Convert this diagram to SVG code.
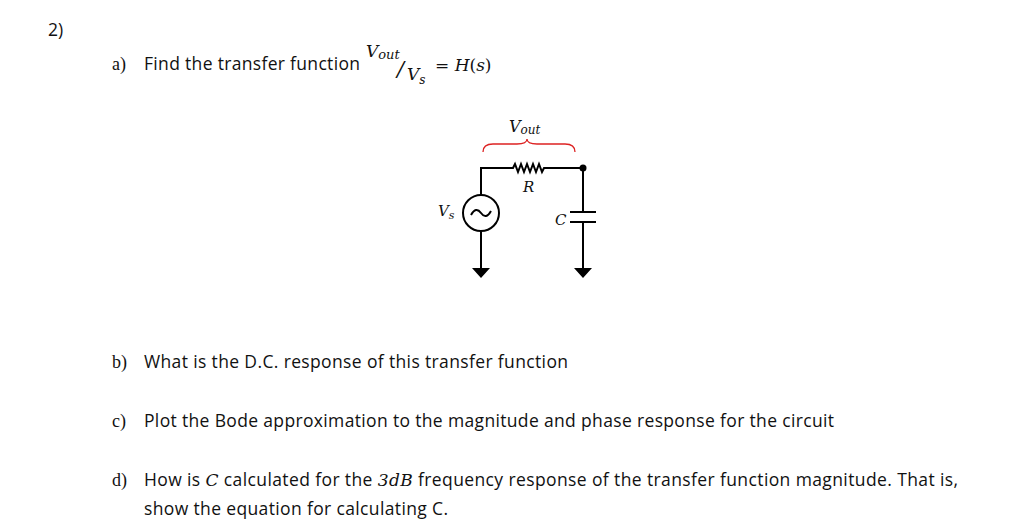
<svg xmlns="http://www.w3.org/2000/svg" width="1024" height="520" viewBox="0 0 1024 520">
<style>
.t{font-family:"Open Sans","Noto Sans",sans-serif;font-size:17.5px;fill:#111}
.s{font-family:"Liberation Serif",serif;font-size:18px;fill:#111}
.m{font-family:"DejaVu Serif","Liberation Serif",serif;font-style:italic;fill:#111}
.w{stroke:#000;stroke-width:2;fill:none}
</style>
<rect width="1024" height="520" fill="#fff"/>
<text class="t" x="48" y="36">2)</text>
<g id="qa">
<text class="s" x="112" y="70">a)</text>
<text class="t" x="144" y="70" textLength="216">Find the transfer function</text>
<text class="m" x="366" y="57" font-size="17">V<tspan font-size="13" dy="2">out</tspan></text>
<text class="m" x="397" y="76" font-size="21" font-style="normal">/</text>
<text class="m" x="407" y="80" font-size="17">V<tspan font-size="12" dy="4">s</tspan></text>
<text class="m" x="435" y="71" font-size="17"><tspan font-style="normal">= </tspan>H<tspan font-style="normal">(</tspan>s<tspan font-style="normal">)</tspan></text>
</g>
<g id="connectors">
<path class="w" d="M481 195V168H513l2-4 3 8 3-8 3 8 3-8 3 8 3-8 3 8 3-8 3 8 2-4H583V212M570 212H596M570 222H596M583 222V268M481 231V268"/>
<path d="M483 152q0-8 10-8h24q10 0 10-5q0 5 10 5h28q10 0 10 8" fill="none" stroke="#d22" stroke-width="1.3"/>
</g>
<g id="vs"><circle class="w" cx="481" cy="213" r="18"/><path class="w" d="M471 215q5-9 10-2t10-2"/></g>
<circle id="node" cx="583" cy="168" r="3.5"/>
<g id="gnd"><path d="M472 268h18l-9 10z M574 268h18l-9 10z"/></g>
<text class="m" x="509" y="132" font-size="16">V<tspan font-size="12" dy="2">out</tspan></text>
<text class="m" x="523" y="192" font-size="15">R</text>
<text class="m" x="438" y="216" font-size="15">V<tspan font-size="11" dy="3">s</tspan></text>
<text class="m" x="555" y="225" font-size="15">C</text>
<g id="qb"><text class="s" x="112" y="368">b)</text><text class="t" x="144" y="368" textLength="424">What is the D.C. response of this transfer function</text></g>
<g id="qc"><text class="s" x="112" y="427">c)</text><text class="t" x="144" y="427" textLength="690">Plot the Bode approximation to the magnitude and phase response for the circuit</text></g>
<g id="qd"><text class="s" x="112" y="486">d)</text><text class="t" x="144" y="486" textLength="814">How is <tspan class="m" font-size="17">C</tspan> calculated for the <tspan class="m" font-size="17" font-style="normal">3</tspan><tspan class="m" font-size="17">dB</tspan> frequency response of the transfer function magnitude. That is,</text>
<text class="t" x="144" y="515" textLength="304">show the equation for calculating C.</text></g>
</svg>
